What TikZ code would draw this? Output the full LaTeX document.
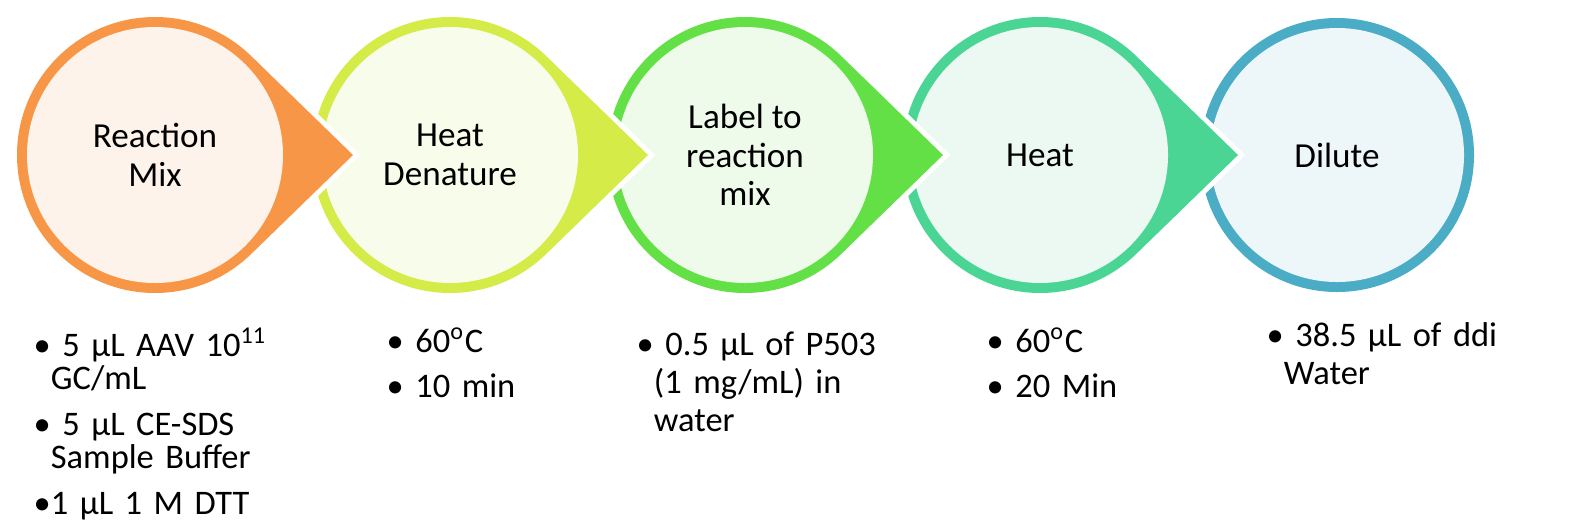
\documentclass[tikz,border=0pt]{standalone}
\usepackage{fontspec}
\setmainfont{Carlito}
\usepackage{tikz}
\usepackage{xcolor}
\definecolor{mixcolor}{HTML}{F79646}
\definecolor{mixfill}{HTML}{FEF3EB}
\definecolor{denatcolor}{HTML}{D5EB47}
\definecolor{denatfill}{HTML}{F8FCEB}
\definecolor{labelcolor}{HTML}{62E046}
\definecolor{labelfill}{HTML}{EEFBEA}
\definecolor{heatcolor}{HTML}{4AD594}
\definecolor{heatfill}{HTML}{EBF9F2}
\definecolor{dilutecolor}{HTML}{4BACC6}
\definecolor{dilutefill}{HTML}{EDF6F9}
\tikzstyle{drop} = [preaction={draw=white, line width=0.1cm}]
\tikzstyle{steptext} = [font=\fontsize{10}{11}\selectfont, align=center]
\tikzstyle{notes} = [font=\fontsize{9.8}{10.9}\selectfont, text width=3.2cm, align=left, anchor=base west, inner sep=0pt]
\newcommand{\bitem}[1]{\par\hangindent=0.5em\hangafter=1\noindent\makebox[0.5em][l]{•}#1\par}

\begin{document}
\begin{tikzpicture}
    \useasboundingbox (0,0) rectangle (15.8,5.3);

    % Dilute
    \fill[dilutecolor] (13.37,3.75) circle (1.37);
    \fill[dilutefill] (13.37,3.75) circle (1.27);
    \node[steptext] (dilute) at (13.37,3.75) {Dilute};

    % Heat
    \fill[drop, heatcolor] (10.40,3.75) ++(45.8:1.38) arc[start angle=45.8, end angle=314.2, radius=1.38] -- (12.38,3.75) -- cycle;
    \fill[heatfill] (10.40,3.75) circle (1.28);
    \node[steptext] (heat) at (10.40,3.75) {Heat};

    % Label to reaction mix
    \fill[drop, labelcolor] (7.45,3.75) ++(45.8:1.38) arc[start angle=45.8, end angle=314.2, radius=1.38] -- (9.43,3.75) -- cycle;
    \fill[labelfill] (7.45,3.75) circle (1.28);
    \node[steptext] (label) at (7.45,3.75) {Label to\\reaction\\mix};

    % Heat denature
    \fill[drop, denatcolor] (4.50,3.75) ++(45.8:1.38) arc[start angle=45.8, end angle=314.2, radius=1.38] -- (6.48,3.75) -- cycle;
    \fill[denatfill] (4.50,3.75) circle (1.28);
    \node[steptext] (denat) at (4.50,3.75) {Heat\\Denature};

    % Reaction mix
    \fill[drop, mixcolor] (1.55,3.75) ++(45.8:1.38) arc[start angle=45.8, end angle=314.2, radius=1.38] -- (3.53,3.75) -- cycle;
    \fill[mixfill] (1.55,3.75) circle (1.28);
    \node[steptext] (mix) at (1.55,3.75) {Reaction\\Mix};

    % Conditions under each step
    \node[notes, font=\fontsize{9.8}{9.4}\selectfont] (mixnotes) at (0.33,2.20) {\setlength{\parskip}{3.7pt}%
        \bitem{\ 5 μL AAV 10\textsuperscript{11}\newline GC/mL}%
        \bitem{\ 5 μL CE-SDS\newline Sample Buffer}%
        \bitem{1 μL 1 M DTT}};
    \node[notes] (denatnotes) at (3.86,2.22) {\setlength{\parskip}{1.8pt}%
        \bitem{\ 60\textsuperscript{o}C}%
        \bitem{\ 10 min}};
    \node[notes] (labelnotes) at (6.36,2.13) {%
        \bitem{\ 0.5 μL of P503\newline (1 mg/mL) in\newline water}};
    \node[notes] (heatnotes) at (9.86,2.22) {\setlength{\parskip}{1.8pt}%
        \bitem{\ 60\textsuperscript{o}C}%
        \bitem{\ 20 Min}};
    \node[notes] (dilutenotes) at (12.66,2.22) {%
        \bitem{\ 38.5 μL of ddi\newline Water}};
\end{tikzpicture}
\end{document}
